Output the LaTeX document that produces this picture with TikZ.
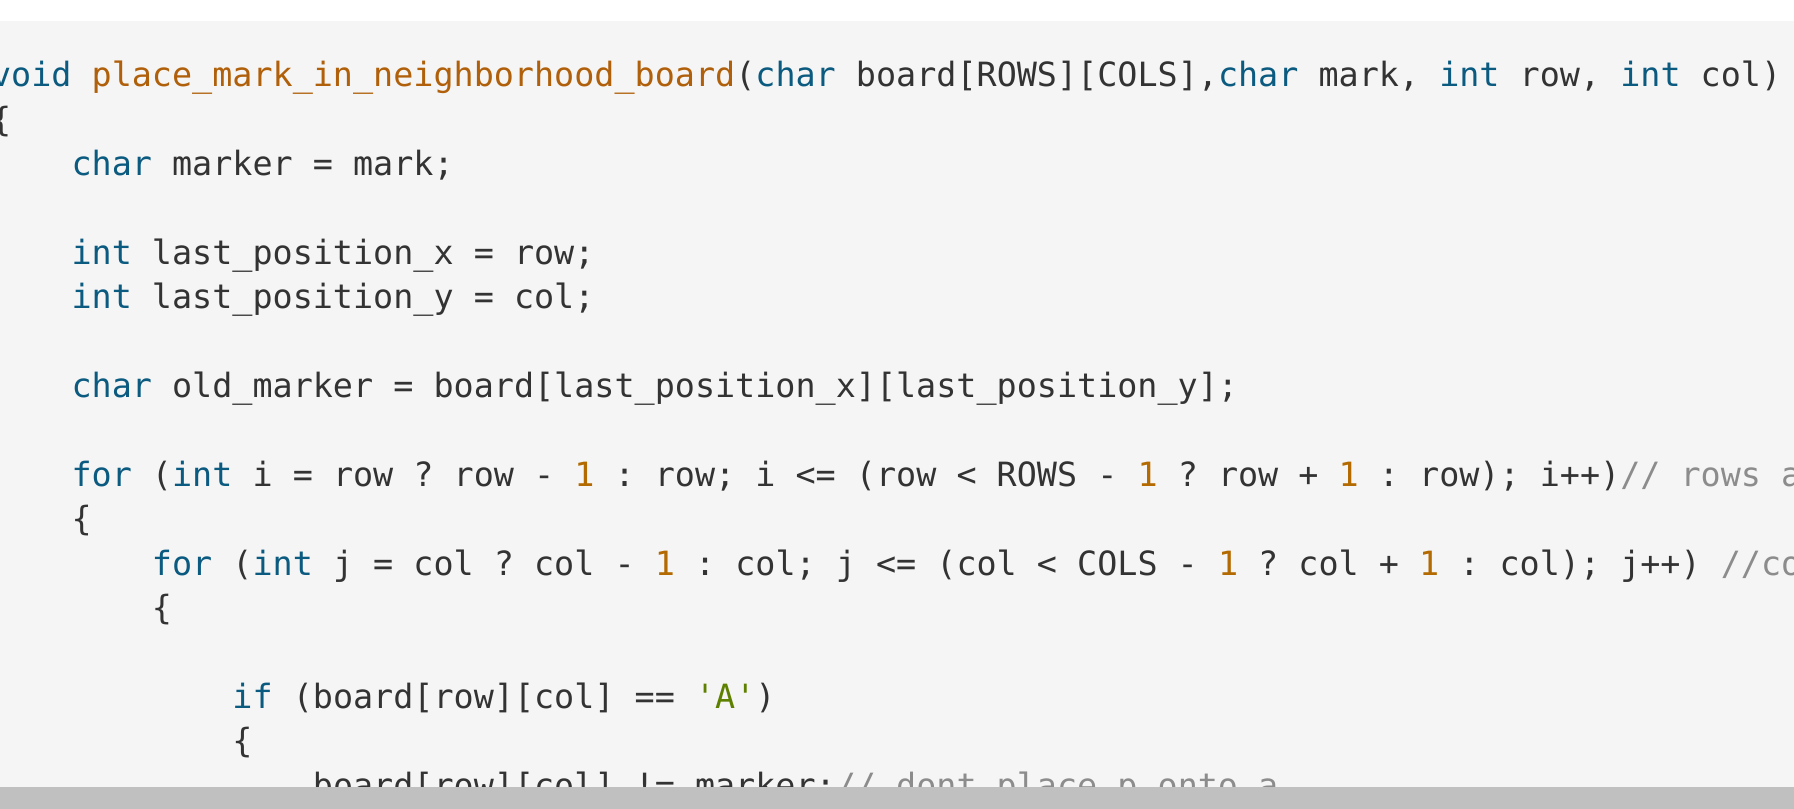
\documentclass[tikz,border=0pt]{standalone}
\usepackage{fontspec}
\newfontfamily\codefont{DejaVu Sans Mono}
\definecolor{bgc}{HTML}{F5F5F5}
\definecolor{barc}{HTML}{C0C0C0}
\definecolor{kwc}{HTML}{0B5A80}
\definecolor{fnc}{HTML}{B0600A}
\definecolor{numc}{HTML}{B36A00}
\definecolor{strc}{HTML}{5E8000}
\definecolor{cmc}{HTML}{8C8C8C}
\definecolor{txc}{HTML}{333333}
\newcommand{\K}[1]{\textcolor{kwc}{#1}}
\newcommand{\Fn}[1]{\textcolor{fnc}{#1}}
\newcommand{\Nm}[1]{\textcolor{numc}{#1}}
\newcommand{\St}[1]{\textcolor{strc}{#1}}
\newcommand{\Cm}[1]{\textcolor{cmc}{#1}}
\newcommand{\q}{\symbol{39}}
\frenchspacing
\tikzset{codeline/.style={anchor=base west,inner sep=0pt,font=\codefont\fontsize{29.2}{30}\selectfont\frenchspacing,text=txc}}
\begin{document}
\begin{tikzpicture}[x=1pt,y=-1pt]
\useasboundingbox (0,0) rectangle (1568,707);
\fill[white] (0,0) rectangle (1568,18);
\fill[bgc] (0,18) rectangle (1568,688);
\begin{scope}
\clip (0,18) rectangle (1568,688);
\def\lh{38.8}
\node[codeline] (l1) at (-8,76) {\K{void} \Fn{place\_mark\_in\_neighborhood\_board}(\K{char} board[ROWS][COLS],\K{char} mark, \K{int} row, \K{int} col)};
\node[codeline] (l2) at (-8,76+1*\lh) {\{};
\node[codeline] (l3) at (-8,76+2*\lh) {\ \ \ \ \K{char} marker = mark;};
\node[codeline] (l5) at (-8,76+4*\lh) {\ \ \ \ \K{int} last\_position\_x = row;};
\node[codeline] (l6) at (-8,76+5*\lh) {\ \ \ \ \K{int} last\_position\_y = col;};
\node[codeline] (l8) at (-8,76+7*\lh) {\ \ \ \ \K{char} old\_marker = board[last\_position\_x][last\_position\_y];};
\node[codeline] (l10) at (-8,76+9*\lh) {\ \ \ \ \K{for} (\K{int} i = row ? row - \Nm{1} : row; i <= (row < ROWS - \Nm{1} ? row + \Nm{1} : row); i++)\Cm{// rows above and below}};
\node[codeline] (l11) at (-8,76+10*\lh) {\ \ \ \ \{};
\node[codeline] (l12) at (-8,76+11*\lh) {\ \ \ \ \ \ \ \ \K{for} (\K{int} j = col ? col - \Nm{1} : col; j <= (col < COLS - \Nm{1} ? col + \Nm{1} : col); j++) \Cm{//columns}};
\node[codeline] (l13) at (-8,76+12*\lh) {\ \ \ \ \ \ \ \ \{};
\node[codeline] (l15) at (-8,76+14*\lh) {\ \ \ \ \ \ \ \ \ \ \ \ \K{if} (board[row][col] == \St{\q A\q})};
\node[codeline] (l16) at (-8,76+15*\lh) {\ \ \ \ \ \ \ \ \ \ \ \ \{};
\node[codeline] (l17) at (-8,76+16*\lh) {\ \ \ \ \ \ \ \ \ \ \ \ \ \ \ \ board[row][col] != marker;\Cm{// dont place p onto a}};
\end{scope}
\fill[barc] (0,688) rectangle (1568,707);
\end{tikzpicture}
\end{document}
